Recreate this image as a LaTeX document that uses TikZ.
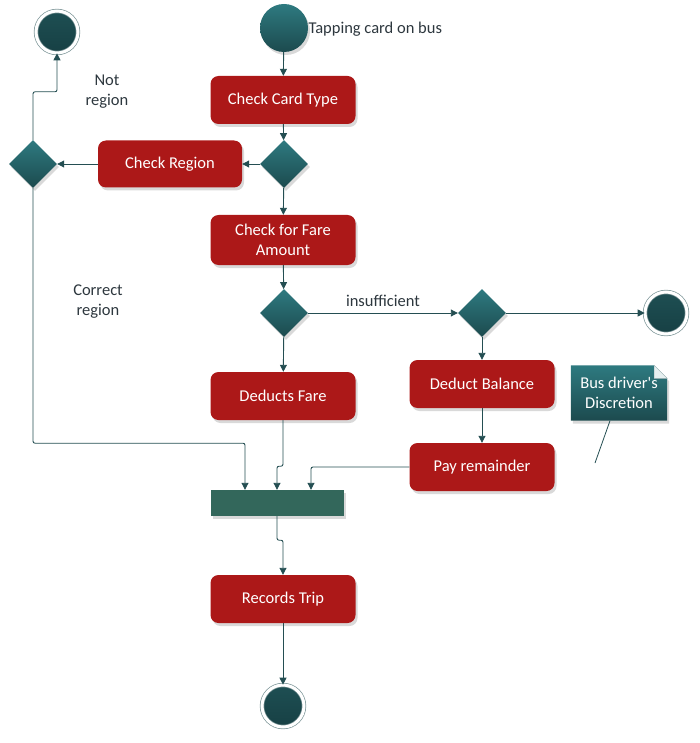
\documentclass[tikz,border=0pt]{standalone}
\usepackage{fontspec}
\setmainfont{Carlito}
\usetikzlibrary{arrows.meta,shapes.geometric,shadows,backgrounds}

\definecolor{boxred}{RGB}{172,24,24}
\definecolor{tealtop}{RGB}{46,122,128}
\definecolor{tealbot}{RGB}{28,74,78}
\definecolor{enddark}{RGB}{23,64,68}
\definecolor{linecol}{RGB}{36,78,82}
\definecolor{barcol}{RGB}{51,103,91}
\definecolor{labelcol}{RGB}{45,55,62}

\tikzset{
  every node/.style={font=\fontsize{16.5}{20}\selectfont},
  softshadow/.style={drop shadow={shadow xshift=2pt, shadow yshift=-3pt, opacity=0.3}},
  action/.style={rectangle, rounded corners=8pt, fill=boxred, text=white,
    minimum width=145pt, minimum height=48pt, inner sep=2pt, align=center, softshadow},
  decision/.style={diamond, minimum width=48pt, minimum height=48pt, inner sep=0pt,
    top color=tealtop, bottom color=tealbot, softshadow},
  startnode/.style={circle, minimum size=48pt, inner sep=0pt,
    top color=tealtop, bottom color=tealbot, softshadow},
  endnode/.style={circle, minimum size=42pt, inner sep=0pt,
    top color=tealbot!90!tealtop, bottom color=enddark,
    draw=linecol!60, line width=0.7pt, double=white, double distance=3pt},
  joinbar/.style={rectangle, fill=barcol, minimum width=133pt, minimum height=26pt,
    inner sep=0pt, softshadow},
  notebox/.style={text=white, minimum width=96pt, minimum height=55pt, inner sep=2pt, align=center},
  flow/.style={draw=linecol, line width=0.9pt, rounded corners=2pt,
    -{Triangle[width=7pt,length=7pt]}},
  guard/.style={text=labelcol, align=center}
}

\begin{document}
\begin{tikzpicture}[x=1pt, y=-1pt]
\useasboundingbox (0,0) rectangle (699,743);

% nodes
\node[startnode] (start) at (284,28) {};
\node[guard, anchor=west] (tapping) at (305,29) {Tapping card on bus};
\node[action] (cardtype) at (283,100) {Check Card Type};
\node[decision] (cardok) at (284,164) {};
\node[action, minimum width=144pt, minimum height=47pt] (region) at (170,164) {Check Region};
\node[decision] (regionok) at (33,164) {};
\node[endnode] (endregion) at (57,32) {};
\node[action, minimum height=50pt] (fare) at (283,240) {Check for Fare\\Amount};
\node[decision] (fareok) at (284,313) {};
\node[decision] (driver) at (482,313) {};
\node[endnode] (enddenied) at (666,313) {};
\node[action] (balance) at (482,384) {Deduct Balance};
\node[action] (deduct) at (283,396) {Deducts Fare};
\node[action] (pay) at (482,467) {Pay remainder};
\node[notebox] (note) at (619,393) {Bus driver\textquotesingle s\\Discretion};
\node[joinbar] (join) at (277,503) {};
\node[action] (trip) at (283,599) {Records Trip};
\node[endnode] (endtrip) at (283,706) {};

% note shape
\begin{scope}[on background layer]
\shade[top color=tealtop, bottom color=tealbot, softshadow]
  (note.south west) -- (note.north west) -- ([xshift=-13pt]note.north east)
  -- ([yshift=-13pt]note.north east) -- (note.south east) -- cycle;
\fill[white!88!tealtop, draw=linecol!40, line width=0.4pt]
  ([xshift=-13pt]note.north east) -- ([yshift=-13pt]note.north east)
  -- ([xshift=-13pt,yshift=-13pt]note.north east) -- cycle;
\end{scope}
\coordinate (noteend) at (595,463);
\draw[draw=linecol, line width=0.8pt] ([xshift=-9pt]note.south) -- (noteend);

% flows
\draw[flow] (start) -- (cardtype);
\draw[flow] (cardtype) -- (cardok);
\draw[flow] (cardok) -- (region);
\draw[flow] (region) -- (regionok);
\draw[flow] (regionok.north) -- ++(0,-48) -| (endregion.south);
\node[guard] (notregion) at (107,92) {Not\\region};
\draw[flow] (regionok.south) -- ++(0,255) -| ([xshift=-32pt]join.north);
\node[guard] (correct) at (98,302) {Correct\\region};
\draw[flow] (cardok) -- (fare);
\draw[flow] (fare) -- (fareok);
\draw[flow] (fareok) -- node[guard, above=3pt, pos=0.5] (insufficient) {insufficient} (driver);
\draw[flow] (driver) -- (enddenied);
\draw[flow] (driver) -- (balance);
\draw[flow] (fareok) -- (deduct);
\draw[flow] (balance) -- (pay);
\draw[flow] (deduct.south) -- ++(0,46) -| (join.north);
\draw[flow] (pay.west) -| ([xshift=34pt]join.north);
\draw[flow] (join.south) -- ++(0,24) -| (trip.north);
\draw[flow] (trip) -- (endtrip);
\end{tikzpicture}
\end{document}
